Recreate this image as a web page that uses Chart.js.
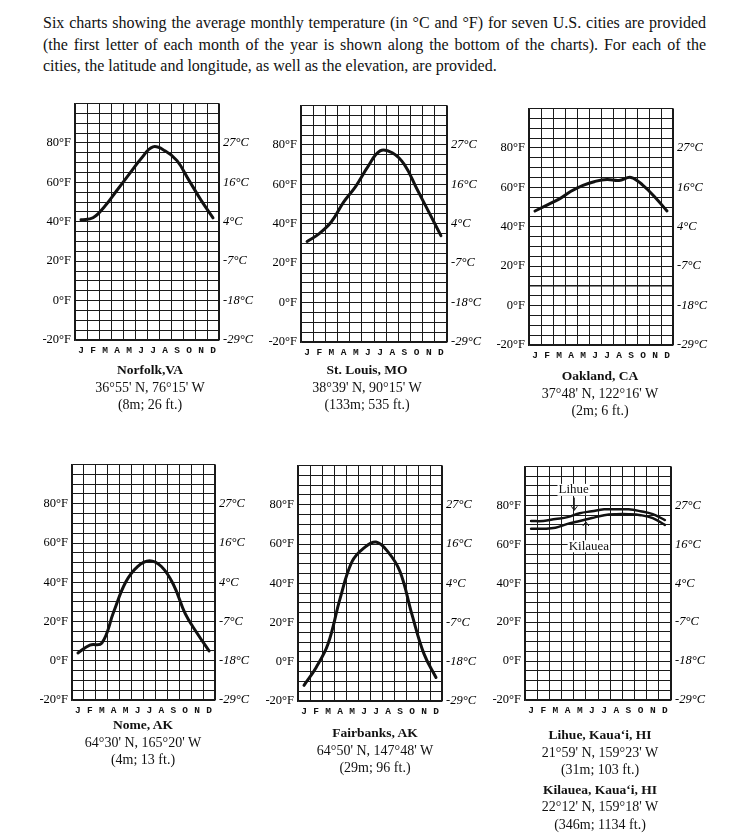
<!DOCTYPE html>
<html>
<head>
<meta charset="utf-8">
<script src="https://cdn.jsdelivr.net/npm/chart.js@4.4.1/dist/chart.umd.min.js"></script>
<style>
  body { margin: 0; background: #fff; font-family: "Liberation Serif", serif; color: #111; }
  #page { position: relative; width: 739px; height: 840px; overflow: hidden; }
  .intro { position: absolute; left: 43px; top: 12px; width: 663px; font-size: 16px; line-height: 21.5px; }
  .intro span { display: block; text-align: justify; text-align-last: justify; }
  .intro span.last { text-align-last: left; }
  canvas { position: absolute; }
  .cap { position: absolute; width: 220px; text-align: center; font-size: 14px; line-height: 17.5px; }
  .cap b { font-size: 13.5px; }
  .cap .gap { display: block; height: 2px; }
</style>
</head>
<body>
<div id="page">
  <div class="intro">
    <span>Six charts showing the average monthly temperature (in °C and °F) for seven U.S. cities are provided</span>
    <span>(the first letter of each month of the year is shown along the bottom of the charts). For each of the</span>
    <span class="last">cities, the latitude and longitude, as well as the elevation, are provided.</span>
  </div>
</div>

<script>
// 데이터
const months = ['J', 'F', 'M', 'A', 'M', 'J', 'J', 'A', 'S', 'O', 'N', 'D'];
const fahrenheitTicks = [-20, 0, 20, 40, 60, 80];
const celsiusLabels = ['-29°C', '-18°C', '-7°C', '4°C', '16°C', '27°C'];

const norfolk = [41, 42, 48, 56, 64, 72, 78, 76, 71, 61, 51, 42];
const stLouis = [31, 35, 41, 51, 59, 69, 77, 76, 70, 58, 46, 34];
const oakland = [48, 51, 54, 58, 61, 63, 64, 63.5, 65, 61, 55, 48];
const nome = [4, 8, 9, 25, 40, 48, 51, 48, 39, 24, 14, 5];
const fairbanks = [-12, -3, 9, 32, 51, 58, 61, 56, 46, 24, 4, -8];
const lihue = [72, 72, 73, 74, 76, 77, 78, 78, 78, 77, 75.5, 72.5];
const kilauea = [68, 68, 68.5, 70.5, 72, 73.5, 75, 75.5, 75.5, 75, 73.5, 70];

// 패널 배치 (grid box in page pixels)
const LW = 44, RW = 44, TOP = 8, XH = 22;
const panels = [
  { x: 75, y: 100, w: 144, h: 240, series: [norfolk], cap: 150, capTop: 361,
    lines: [['Norfolk,VA', '36°55\' N, 76°15\' W', '(8m; 26 ft.)']] },
  { x: 301, y: 102, w: 146, h: 240, series: [stLouis], cap: 367, capTop: 361,
    lines: [['St. Louis, MO', '38°39\' N, 90°15\' W', '(133m; 535 ft.)']] },
  { x: 529, y: 105, w: 144, h: 240, series: [oakland], cap: 600, capTop: 367, thick: 10,
    lines: [['Oakland, CA', '37°48\' N, 122°16\' W', '(2m; 6 ft.)']] },
  { x: 72, y: 461, w: 143, h: 239, series: [nome], cap: 143, capTop: 716,
    lines: [['Nome, AK', '64°30\' N, 165°20\' W', '(4m; 13 ft.)']] },
  { x: 298, y: 462, w: 144, h: 239, series: [fairbanks], cap: 375, capTop: 724,
    lines: [['Fairbanks, AK', '64°50\' N, 147°48\' W', '(29m; 96 ft.)']] },
  { x: 525, y: 463, w: 146, h: 237, series: [lihue, kilauea], cap: 600, capTop: 726, notes: true,
    lines: [['Lihue, Kaua‘i, HI', '21°59\' N, 159°23\' W', '(31m; 103 ft.)'],
            ['Kilauea, Kaua‘i, HI', '22°12\' N, 159°18\' W', '(346m; 1134 ft.)']] }
];

// Lihue / Kilauea 라벨과 화살표
const hawaiiNotes = {
  id: 'hawaiiNotes',
  afterDatasetsDraw(chart) {
    const { ctx, scales: { x, y } } = chart;
    ctx.save();
    ctx.font = '13px "Liberation Serif"';
    ctx.textAlign = 'center';
    ctx.textBaseline = 'middle';

    const label = (text, xi, v) => {
      const px = x.getPixelForValue(xi), py = y.getPixelForValue(v);
      const tw = ctx.measureText(text).width;
      ctx.fillStyle = '#fff';
      ctx.fillRect(px - tw / 2 - 1, py - 6, tw + 2, 12);
      ctx.fillStyle = '#111';
      ctx.fillText(text, px, py);
    };
    const arrow = (xi, from, to) => {
      const px = x.getPixelForValue(xi);
      const y0 = y.getPixelForValue(from), y1 = y.getPixelForValue(to);
      const d = y1 > y0 ? -1 : 1;
      ctx.strokeStyle = '#111';
      ctx.lineWidth = 1;
      ctx.beginPath();
      ctx.moveTo(px, y0);
      ctx.lineTo(px, y1);
      ctx.moveTo(px - 3, y1 + d * 4);
      ctx.lineTo(px, y1);
      ctx.lineTo(px + 3, y1 + d * 4);
      ctx.stroke();
    };

    label('Lihue', 3.5, 88);
    arrow(3.55, 84, 77.5);
    label('Kilauea', 4.75, 59);
    arrow(4.5, 65, 71.5);
    ctx.restore();
  }
};

const page = document.getElementById('page');

panels.forEach(p => {
  const canvas = document.createElement('canvas');
  canvas.width = LW + p.w + RW;
  canvas.height = TOP + p.h + XH;
  canvas.style.left = (p.x - LW) + 'px';
  canvas.style.top = (p.y - TOP) + 'px';
  page.appendChild(canvas);

  new Chart(canvas.getContext('2d'), {
    type: 'line',
    data: {
      labels: months,
      datasets: p.series.map(s => ({
        data: s,
        borderColor: '#111',
        borderWidth: p.series.length > 1 ? 2.5 : 3,
        pointRadius: 0,
        tension: 0.4,
        borderCapStyle: 'round',
        fill: false
      }))
    },
    options: {
      responsive: false,
      animation: false,
      layout: { padding: { top: TOP, left: 0, right: 0, bottom: 0 } },
      plugins: { legend: { display: false }, tooltip: { enabled: false } },
      scales: {
        x: {
          offset: true,
          grid: { offset: true, color: '#1a1a1a', lineWidth: 1, drawTicks: false },
          border: { color: '#1a1a1a', width: 1.2 },
          ticks: { color: '#111', padding: 5, autoSkip: false, maxRotation: 0,
                   font: { family: 'Liberation Mono', size: 9.5, weight: 'bold' } },
          afterFit(axis) { axis.height = XH; }
        },
        y: {
          min: -20, max: 100,
          grid: { color: '#1a1a1a', drawTicks: false,
                  lineWidth: c => (p.thick !== undefined && c.tick && c.tick.value === p.thick) ? 1.6 : 1 },
          border: { color: '#1a1a1a', width: 1.2 },
          ticks: {
            stepSize: 5, autoSkip: false, padding: 4, color: '#000',
            font: { family: 'Liberation Serif', size: 12.5 },
            callback: v => fahrenheitTicks.includes(v) ? v + '°F' : ''
          },
          afterFit(axis) { axis.width = LW; }
        },
        y2: {
          position: 'right',
          min: -20, max: 100,
          grid: { display: false, drawTicks: false },
          border: { color: '#1a1a1a', width: 1.2 },
          ticks: {
            stepSize: 5, autoSkip: false, padding: 4, color: '#000',
            font: { family: 'Liberation Serif', size: 12.5, style: 'italic' },
            callback: v => {
              const i = fahrenheitTicks.indexOf(v);
              return i >= 0 ? celsiusLabels[i] : '';
            }
          },
          afterFit(axis) { axis.width = RW; }
        }
      }
    },
    plugins: p.notes ? [hawaiiNotes] : []
  });

  // 도시 설명
  const cap = document.createElement('div');
  cap.className = 'cap';
  cap.style.left = (p.cap - 110) + 'px';
  cap.style.top = p.capTop + 'px';
  cap.innerHTML = p.lines.map(l => '<b>' + l[0] + '</b><br>' + l[1] + '<br>' + l[2])
    .join('<span class="gap"></span>');
  page.appendChild(cap);
});
</script>
</body>
</html>
